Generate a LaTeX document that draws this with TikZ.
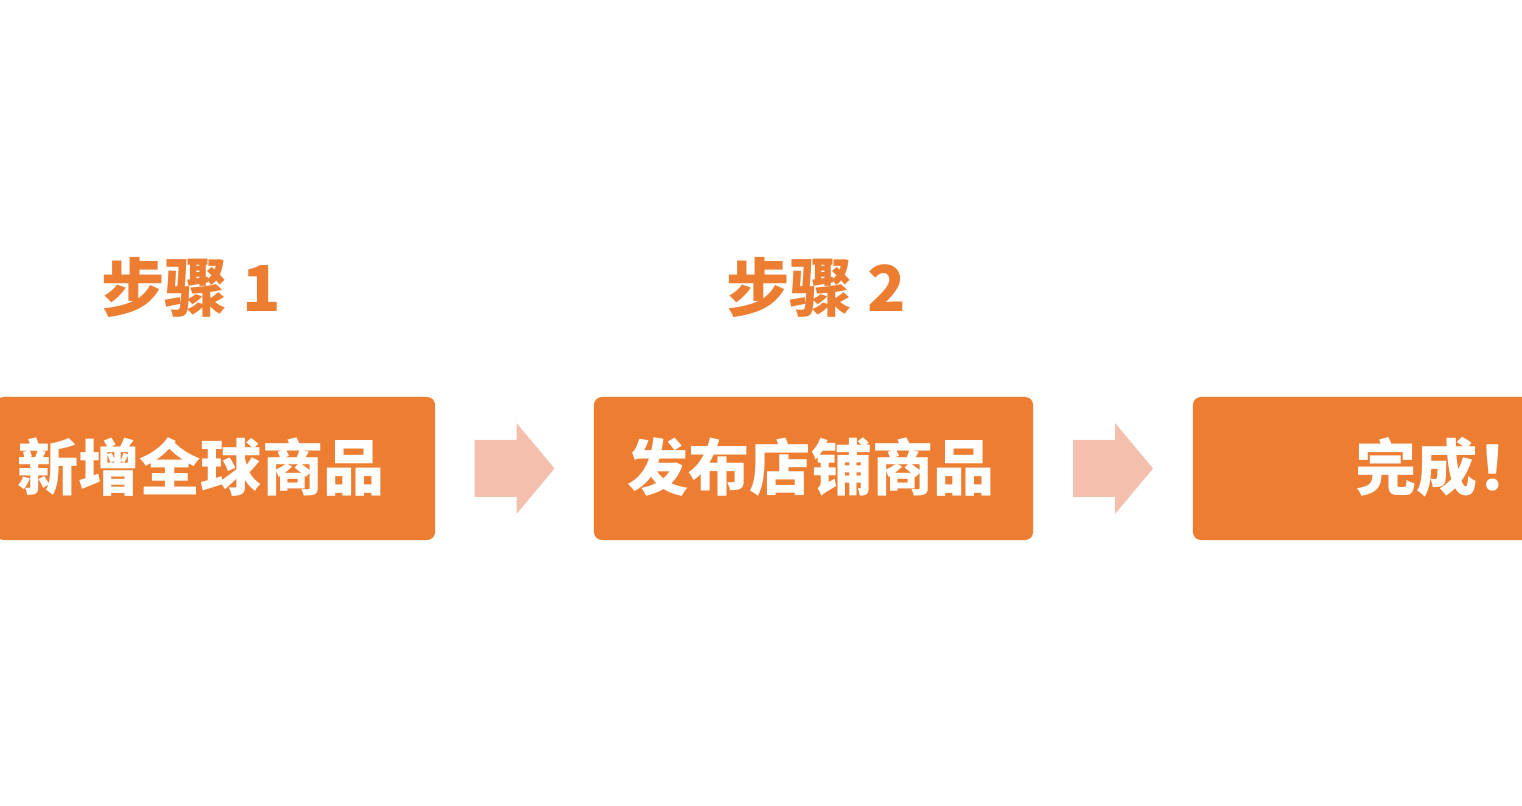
\documentclass[tikz,border=0pt]{standalone}
\usepackage{fontspec}
\setmainfont{Noto Sans CJK SC}
\usepackage{tikz}
\usetikzlibrary{positioning,calc}
\definecolor{steporange}{HTML}{ED7D31}
\definecolor{arrowpink}{HTML}{F5BFAE}
\tikzset{
  stepbox/.style={fill=steporange,rounded corners=0.2cm,minimum width=10.975cm,
    minimum height=3.575cm,inner sep=0pt},
  boxtext/.style={text=white,inner sep=0pt,font=\fontsize{43.5}{50}\selectfont\bfseries},
  steplabel/.style={text=steporange,inner sep=0pt,font=\fontsize{45}{52}\selectfont\bfseries}
}
\begin{document}
\begin{tikzpicture}[x=0.025cm,y=0.025cm]
  \clip (0,0) rectangle (1522,806);
  \fill[white] (0,0) rectangle (1522,806);
  \node[stepbox] (add) at (215.5,337.5) {};
  \node[stepbox] (publish) at (813.5,337.5) {};
  \node[stepbox] (done) at (1412.5,337.5) {};
  \node[boxtext] (addtext) at (201,339) {新增全球商品};
  \node[boxtext] (publishtext) at (811,339) {发布店铺商品};
  \node[boxtext,anchor=west] (donetext) at (1355,339) {完成！};
  \node[steplabel] (stepone) at (191,519) {步骤 1};
  \node[steplabel] (steptwo) at (816,519) {步骤 2};
  % block arrows between the boxes
  \foreach \a/\b/\n in {add/publish/1,publish/done/2}{
    \coordinate (mid\n) at ($(\a.east)!0.5!(\b.west)$);
    \fill[arrowpink] ($(mid\n)+(-40,28.5)$) -- ($(mid\n)+(2,28.5)$) -- ($(mid\n)+(2,45.5)$)
      -- ($(mid\n)+(40,0)$) -- ($(mid\n)+(2,-45.5)$) -- ($(mid\n)+(2,-28.5)$)
      -- ($(mid\n)+(-40,-28.5)$) -- cycle;
  }
\end{tikzpicture}
\end{document}
